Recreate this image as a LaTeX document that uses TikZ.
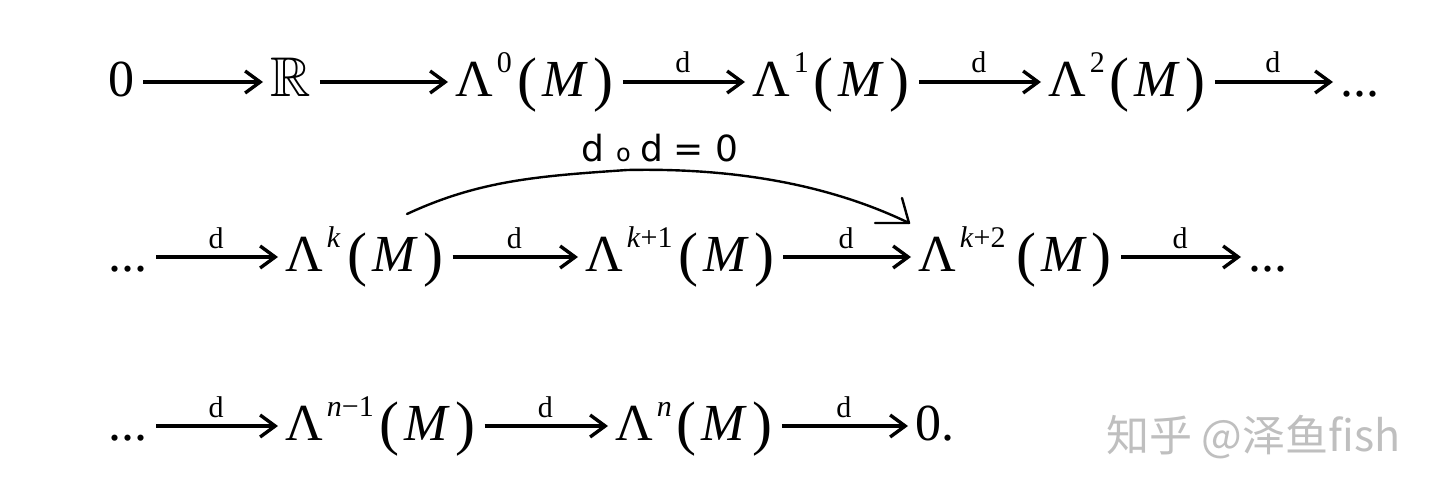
\documentclass[tikz,border=0pt]{standalone}
\usepackage{fontspec}
\usepackage{amssymb}
\setmainfont{Liberation Serif}
\newfontfamily\cjk{Noto Sans CJK SC}
\newfontfamily\hand{DejaVu Sans}
\usetikzlibrary{arrows.meta}
\newcommand{\bigpar}[1]{\raisebox{-3.5pt}{\fontsize{60}{60}\selectfont #1}}
\newcommand{\Lm}[2]{Λ\raisebox{0.46em}{\fontsize{30}{30}\selectfont\hspace{4pt}#1}#2\hspace{2pt}\bigpar{(}\hspace{5pt}\textit{M}\/\hspace{5pt}\bigpar{)}}
\tikzset{
  term/.style={anchor=base west, inner xsep=0pt, inner ysep=2pt, font=\fontsize{52}{60}\selectfont},
  arr/.style={line width=3.2pt, -{Straight Barb[length=15pt,width=22pt,line width=3.4pt]}, shorten <=9pt, shorten >=7pt},
  lab/.style={midway, anchor=base, yshift=9pt, inner sep=0pt, font=\fontsize{30}{36}\selectfont},
  handline/.style={line width=2.4pt, line cap=round, line join=round},
  wm/.style={font=\cjk\fontsize{43}{43}\selectfont, text=black!25}
}
\begin{document}
\begin{tikzpicture}[x=1pt,y=-1pt]
\fill[white] (0,0) rectangle (1440,495);
\useasboundingbox (0,0) rectangle (1440,495);
% row 1
\node[term] (z0) at (108,96) {0};
\node[term] (R)  at (270,96) {\fontsize{56}{60}\selectfont$\mathbb{R}$};
\node[term] (L0) at (455,96) {\Lm{0}{\hspace{4pt}}};
\node[term] (L1) at (752,96) {\Lm{1}{\hspace{3pt}}};
\node[term] (L2) at (1048,96) {\Lm{2}{\hspace{3pt}}};
\node[term] (e1) at (1340,96) {...};
\draw[arr] ([yshift=14pt]z0.base east) -- ([yshift=14pt]R.base west);
\draw[arr] ([yshift=14pt]R.base east) -- ([yshift=14pt]L0.base west);
\draw[arr] ([yshift=14pt]L0.base east) -- node[lab]{d} ([yshift=14pt]L1.base west);
\draw[arr] ([yshift=14pt]L1.base east) -- node[lab]{d} ([yshift=14pt]L2.base west);
\draw[arr] ([yshift=14pt]L2.base east) -- node[lab]{d} ([yshift=14pt]e1.base west);
% row 2
\node[term] (s2)  at (108,271) {...};
\node[term] (Lk)  at (285,271) {\Lm{\textit{k}}{\hspace{5pt}}};
\node[term] (Lk1) at (585,271) {\Lm{\textit{k}+1}{\hspace{4pt}}};
\node[term] (Lk2) at (918,271) {\Lm{\textit{k}+2}{\,}};
\node[term] (e2)  at (1248,271) {...};
\draw[arr] ([yshift=14pt]s2.base east) -- node[lab]{d} ([yshift=14pt]Lk.base west);
\draw[arr] ([yshift=14pt]Lk.base east) -- node[lab]{d} ([yshift=14pt]Lk1.base west);
\draw[arr] ([yshift=14pt]Lk1.base east) -- node[lab]{d} ([yshift=14pt]Lk2.base west);
\draw[arr] ([yshift=14pt]Lk2.base east) -- node[lab]{d} ([yshift=14pt]e2.base west);
% row 3
\node[term] (s3)  at (108,440) {...};
\node[term] (Ln1) at (285,440) {\Lm{\textit{n}−1}{\hspace{4pt}}};
\node[term] (Ln)  at (615,440) {\Lm{\textit{n}}{\hspace{3pt}}};
\node[term] (z3)  at (915,440) {0.};
\draw[arr] ([yshift=14pt]s3.base east) -- node[lab]{d} ([yshift=14pt]Ln1.base west);
\draw[arr] ([yshift=14pt]Ln1.base east) -- node[lab]{d} ([yshift=14pt]Ln.base west);
\draw[arr] ([yshift=14pt]Ln.base east) -- node[lab]{d} ([yshift=14pt]z3.base west);
% handwritten arc
\coordinate (hs) at (407,214);
\coordinate (hm) at (627,170);
\coordinate (he) at (909,223);
\coordinate (ha) at (875,223);
\coordinate (hb) at (902,198);
\draw[handline] (hs) .. controls (480,180) and (540,176) .. (hm) .. controls (720,168) and (820,180) .. (he);
\draw[handline] (ha) -- (he) -- (hb);
\node[inner sep=0pt, anchor=base, font=\hand\fontsize{36}{40}\selectfont] (hl) at (660,161)
  {d\hspace{12pt}{\fontsize{24}{30}\selectfont o}\hspace{10pt}d\hspace{10pt}=\hspace{12pt}0};
% watermark
\node[wm, anchor=base west, inner sep=0pt] (wmk) at (1106,451) {知乎 @泽鱼fish};
\end{tikzpicture}
\end{document}
